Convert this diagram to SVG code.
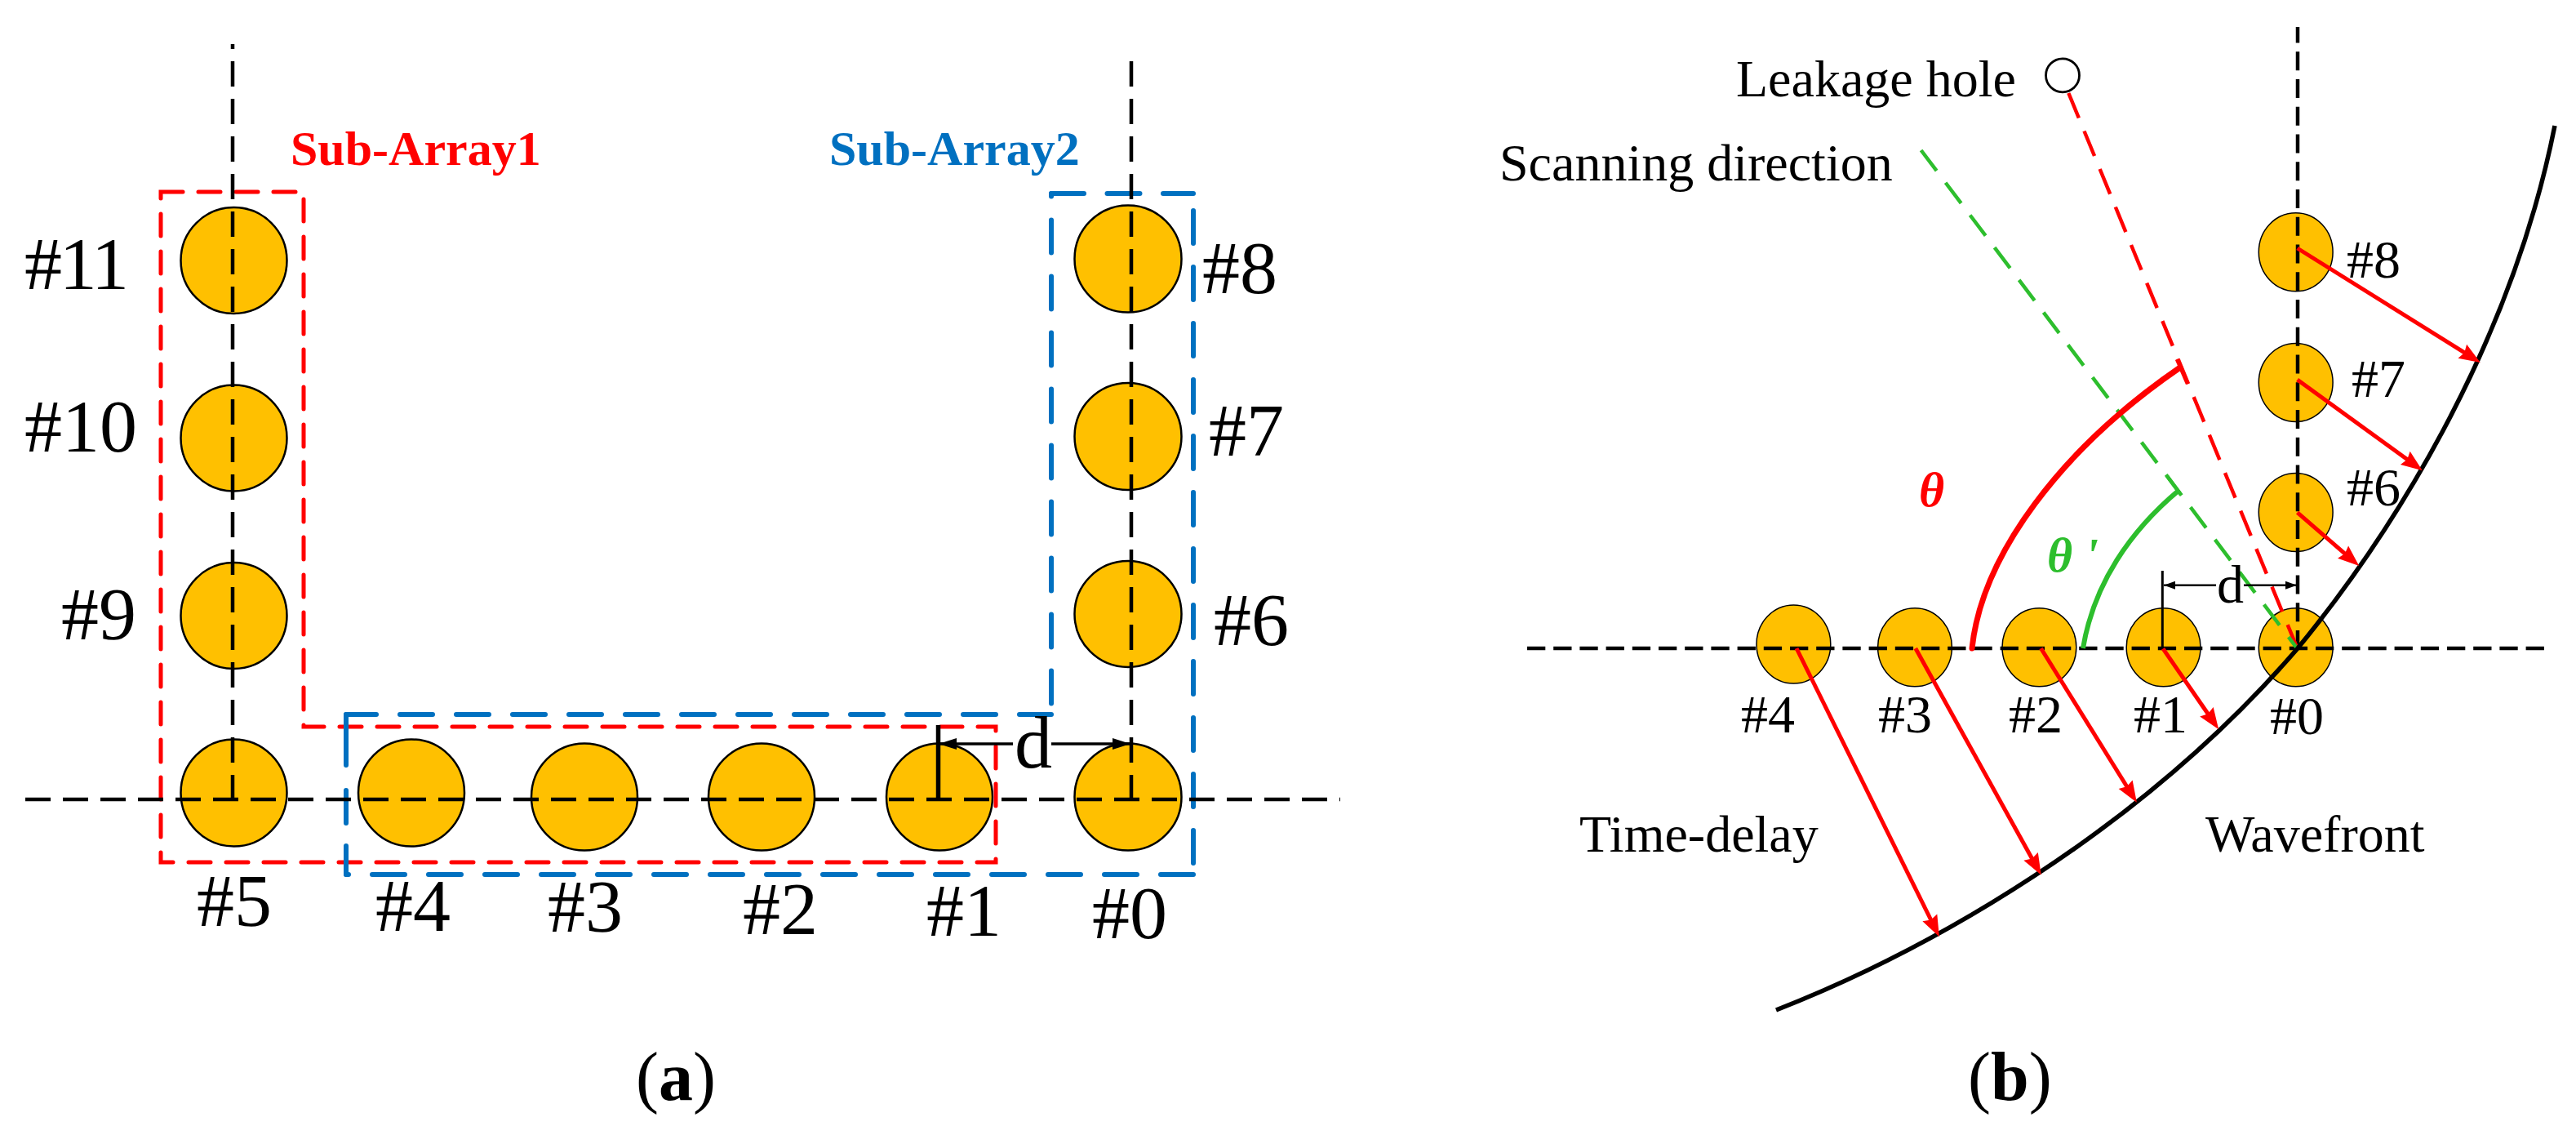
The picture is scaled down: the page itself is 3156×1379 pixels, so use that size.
<svg xmlns="http://www.w3.org/2000/svg" width="3156" height="1379" viewBox="0 0 3156 1379">
<style>
text{font-family:"Liberation Serif","Times New Roman",serif;fill:#000}
.s{fill:#FFC000;stroke:#000;stroke-width:2.5}
.sb{fill:#FFC000;stroke:#000;stroke-width:1.5}
.la{font-size:92px}
.lb{font-size:66px}
.lt{font-size:64px}
.sa{font-size:60px;font-weight:bold}
.cap{font-size:84px}
.k{fill:none;stroke:#000;stroke-width:4.5;stroke-dasharray:31 15}
.kb{fill:none;stroke:#000;stroke-width:4.5}
.rd{fill:none;stroke:#F00;stroke-width:5;stroke-linecap:round;stroke-dasharray:27 19}
.bl{fill:none;stroke:#0070C0;stroke-width:6;stroke-linecap:round}
.blb{stroke-dasharray:40 29}
.ar{stroke:#F00;stroke-width:5;fill:none;marker-end:url(#ra)}
.dm{stroke:#000;fill:none}
</style>
<defs>
<marker id="ra" markerUnits="userSpaceOnUse" markerWidth="30" markerHeight="24" refX="13" refY="12" orient="auto" overflow="visible"><path d="M0,2L26,12L0,22L3,12Z" fill="#F00"/></marker>
<marker id="ka" markerUnits="userSpaceOnUse" markerWidth="24" markerHeight="16" refX="22" refY="8" orient="auto"><path d="M0,1L22,8L0,15Z" fill="#000"/></marker>
<marker id="kb" markerUnits="userSpaceOnUse" markerWidth="16" markerHeight="12" refX="14" refY="6" orient="auto"><path d="M0,1L14,6L0,11Z" fill="#000"/></marker>
</defs>
<g id="panel-a-nodes">
<g id="a11"><ellipse class="s" cx="286.5" cy="319" rx="65" ry="65"/><text class="la" x="30" y="354" textLength="128">#11</text></g>
<g id="a10"><ellipse class="s" cx="286.5" cy="536.5" rx="65" ry="65"/><text class="la" x="30" y="553">#10</text></g>
<g id="a9"><ellipse class="s" cx="286.5" cy="754" rx="65" ry="65"/><text class="la" x="75" y="783">#9</text></g>
<g id="a5"><ellipse class="s" cx="286.5" cy="971" rx="65" ry="65.5"/><text class="la" x="241" y="1134">#5</text></g>
<g id="a4"><ellipse class="s" cx="504" cy="971" rx="65" ry="65.5"/><text class="la" x="460" y="1140">#4</text></g>
<g id="a3"><ellipse class="s" cx="716" cy="976" rx="65" ry="65.5"/><text class="la" x="671" y="1141">#3</text></g>
<g id="a2"><ellipse class="s" cx="933" cy="976" rx="65" ry="65.5"/><text class="la" x="910" y="1144">#2</text></g>
<g id="a1"><ellipse class="s" cx="1151" cy="976" rx="65" ry="65.5"/><text class="la" x="1135" y="1146">#1</text></g>
<g id="a0"><ellipse class="s" cx="1382" cy="976" rx="65.5" ry="65.5"/><text class="la" x="1338" y="1149">#0</text></g>
<g id="a6"><ellipse class="s" cx="1382" cy="752" rx="65.5" ry="65"/><text class="la" x="1487" y="790">#6</text></g>
<g id="a7"><ellipse class="s" cx="1382" cy="534.5" rx="65.5" ry="65.5"/><text class="la" x="1481" y="558">#7</text></g>
<g id="a8"><ellipse class="s" cx="1382" cy="317" rx="65.5" ry="65.5"/><text class="la" x="1473" y="359">#8</text></g>
</g>
<g id="panel-a-connectors">
<path class="rd" d="M197,235H372V890H1220V1056H197Z"/>
<path class="bl blb" style="stroke-dasharray:40 28.5" d="M1288,237H1462"/>
<path class="bl blb" d="M1462,258V1071"/>
<path class="bl blb" d="M1462,1071H424"/>
<path class="bl" d="M424,875V937M424,968V1008M424,1036V1071"/>
<path class="bl blb" stroke-dashoffset="3" d="M424,875H1288"/>
<path class="bl blb" stroke-dashoffset="36.5" d="M1288,237V890"/>
<path class="k" d="M31,979H1642"/>
<path class="k" d="M285,980V54"/>
<path class="k" d="M1386,980V75"/>
<path class="dm" stroke-width="5.5" d="M1149.5,888V979"/>
<path class="dm" stroke-width="3.5" marker-end="url(#ka)" d="M1241,911H1150"/>
<path class="dm" stroke-width="3.5" marker-end="url(#ka)" d="M1288,911H1385"/>
</g>
<text class="la" x="1243" y="940">d</text>
<text class="sa" x="356" y="202" style="fill:#F00">Sub-Array1</text>
<text class="sa" x="1016" y="202" style="fill:#0070C0">Sub-Array2</text>
<text class="cap" x="779" y="1347">(<tspan font-weight="bold">a</tspan>)</text>
<g id="panel-b-nodes">
<g id="b8"><ellipse class="sb" cx="2812.7" cy="308.7" rx="45.4" ry="48"/><text class="lb" x="2875" y="340">#8</text></g>
<g id="b7"><ellipse class="sb" cx="2812.7" cy="468.5" rx="45.4" ry="48"/><text class="lb" x="2881" y="486">#7</text></g>
<g id="b6"><ellipse class="sb" cx="2812.7" cy="627.5" rx="45.4" ry="48"/><text class="lb" x="2875" y="619">#6</text></g>
<g id="b0"><ellipse class="sb" cx="2812.7" cy="792.7" rx="45.4" ry="48"/><text class="lb" x="2781" y="899">#0</text></g>
<g id="b1"><ellipse class="sb" cx="2650.6" cy="792.7" rx="45.4" ry="48"/><text class="lb" x="2614" y="897">#1</text></g>
<g id="b2"><ellipse class="sb" cx="2498.4" cy="792.7" rx="45.4" ry="48"/><text class="lb" x="2461" y="897">#2</text></g>
<g id="b3"><ellipse class="sb" cx="2346" cy="792.7" rx="45.4" ry="48"/><text class="lb" x="2301" y="897">#3</text></g>
<g id="b4"><ellipse class="sb" cx="2197.4" cy="789" rx="45.4" ry="48"/><text class="lb" x="2133" y="897">#4</text></g>
<g id="leak"><circle cx="2527" cy="92.3" r="20.5" fill="#fff" stroke="#000" stroke-width="2.8"/><text class="lt" x="2127" y="118">Leakage hole</text></g>
<text class="lt" x="1837" y="221">Scanning direction</text>
<text class="lt" x="1935" y="1043">Time-delay</text>
<text class="lt" x="2702" y="1043">Wavefront</text>
</g>
<g id="panel-b-connectors">
<path class="kb" stroke-dasharray="22.3 9.9" d="M1871,794H3117"/>
<path class="kb" stroke-dasharray="23 10.75" d="M2815,795V33"/>
<path d="M2534.3,114L2815,795" fill="none" stroke="#F00" stroke-width="4.5" stroke-dasharray="33 17.3"/>
<path d="M2353.6,184L2815,795" fill="none" stroke="#2DBE2D" stroke-width="4.5" stroke-dasharray="31.6 18.2"/>
<path d="M2416,794C2428,680 2525,550 2671,450" fill="none" stroke="#F00" stroke-width="7" stroke-linecap="round"/>
<path d="M2667,440L2680,470" fill="none" stroke="#F00" stroke-width="4.5"/>
<path d="M2552,794C2565,715 2610,650 2670,600" fill="none" stroke="#2DBE2D" stroke-width="6"/>
<path d="M2655,583L2672,606" fill="none" stroke="#2DBE2D" stroke-width="4.5"/>
<path fill="none" stroke="#000" stroke-width="5.5" d="M2176,1237C2360,1165 2620,1020 2815,794C2925,660 3075,430 3130,154"/>
<path class="ar" d="M2814.6,304L3027.8,437.2"/>
<path class="ar" d="M2814.6,465L2957.3,568.6"/>
<path class="ar" d="M2814.6,627.7L2880.4,684.6"/>
<path class="ar" d="M2650,794.4L2710.8,882.5"/>
<path class="ar" d="M2500.5,794L2611,971.8"/>
<path class="ar" d="M2346.8,794L2494.4,1060.2"/>
<path class="ar" d="M2201,794L2370.1,1135.5"/>
<path class="dm" stroke-width="3" d="M2649.3,699V794"/>
<path class="dm" stroke-width="2.5" marker-end="url(#kb)" d="M2715,716.7H2651"/>
<path class="dm" stroke-width="2.5" marker-end="url(#kb)" d="M2749,716.7H2814"/>
</g>
<text class="lb" x="2716" y="737.5">d</text>
<text class="lb" x="2351" y="620" font-weight="bold" font-style="italic" style="fill:#F00;font-size:60px">θ</text>
<text class="lb" x="2508" y="700" font-weight="bold" font-style="italic" style="fill:#2DBE2D;font-size:60px">θ '</text>
<text class="cap" x="2411" y="1347">(<tspan font-weight="bold">b</tspan>)</text>
</svg>
